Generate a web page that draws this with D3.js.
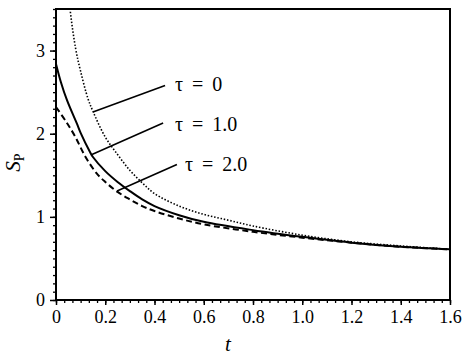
<!DOCTYPE html>
<html><head><meta charset="utf-8">
<script src="https://cdn.jsdelivr.net/npm/d3@7/dist/d3.min.js"></script>
<style>body{margin:0;background:#fff}svg{display:block}text{font-family:"Liberation Serif","Times New Roman","DejaVu Serif",serif}</style>
</head><body>
<svg id="c" width="474" height="361"></svg>
<script>
// ---- data ----
const curveTau0 = [[0.04,4.1],[0.057,3.5],[0.08,3.02],[0.1,2.75],[0.13,2.42],[0.15,2.27],[0.2,1.96],[0.25,1.75],[0.3,1.56],[0.35,1.41],[0.4,1.28],[0.5,1.13],[0.6,1.03],[0.7,0.96],[0.8,0.89],[1.0,0.78],[1.2,0.70],[1.4,0.65],[1.6,0.61]];
const curveTau1 = [[0,2.84],[0.02,2.62],[0.045,2.4],[0.085,2.12],[0.1,2.01],[0.138,1.78],[0.15,1.72],[0.2,1.55],[0.25,1.42],[0.3,1.31],[0.35,1.21],[0.4,1.13],[0.5,1.02],[0.6,0.94],[0.8,0.84],[1.0,0.76],[1.2,0.69],[1.4,0.64],[1.6,0.61]];
const curveTau2 = [[0,2.32],[0.04,2.15],[0.077,1.97],[0.12,1.72],[0.166,1.52],[0.2,1.42],[0.25,1.30],[0.3,1.21],[0.35,1.13],[0.4,1.07],[0.5,0.98],[0.6,0.91],[0.8,0.82],[1.0,0.75],[1.2,0.69],[1.4,0.64],[1.6,0.61]];
const seriesLabels = ["τ = 0","τ = 1.0","τ = 2.0"];
const leaderFrom = [[0.15,2.26],[0.146,1.75],[0.248,1.31]];
const leaderTo = [[0.443,2.58],[0.435,2.13],[0.491,1.63]];
const labelPos = [[0.483,2.6],[0.483,2.12],[0.524,1.63]];
const xTicks = [0,0.2,0.4,0.6,0.8,1.0,1.2,1.4,1.6];
const xTickLabels = ["0","0.2","0.4","0.6","0.8","1.0","1.2","1.4","1.6"];
const yTicks = [0,1,2,3];
const yTickLabels = ["0","1","2","3"];
const xDomain = [0,1.6], yDomain = [0,3.5];

// ---- layout ----
const L=56,R=450,T=9,B=300;
const svg=d3.select("#c");
const x=d3.scaleLinear().domain(xDomain).range([L,R]);
const y=d3.scaleLinear().domain(yDomain).range([B,T]);
const font='"Liberation Serif","Times New Roman","DejaVu Serif",serif';

svg.append("clipPath").attr("id","clip").append("rect")
  .attr("x",L).attr("y",T).attr("width",R-L).attr("height",B-T);

// minor ticks
const xMinor=d3.range(0,49).map(i=>i/30).filter(v=>v<=1.6+1e-9);
const yMinor=d3.range(0,36).map(i=>i/10);
const gx=svg.append("g").attr("transform",`translate(0,${B})`)
  .call(d3.axisBottom(x).tickValues(xMinor).tickSize(3).tickFormat(""));
const gy=svg.append("g").attr("transform",`translate(${L},0)`)
  .call(d3.axisLeft(y).tickValues(yMinor).tickSize(3).tickFormat(""));
[gx,gy].forEach(g=>{g.select(".domain").remove();g.selectAll("line").attr("stroke","#000").attr("stroke-width",1.3);});

const gx2=svg.append("g").attr("transform",`translate(0,${B})`)
  .call(d3.axisBottom(x).tickValues(xTicks).tickSize(5).tickPadding(5).tickFormat((d,i)=>xTickLabels[i]));
const gy2=svg.append("g").attr("transform",`translate(${L},0)`)
  .call(d3.axisLeft(y).tickValues(yTicks).tickSize(6).tickPadding(5).tickFormat((d,i)=>yTickLabels[i]));
[gx2,gy2].forEach(g=>{g.select(".domain").remove();g.selectAll("line").attr("stroke","#000").attr("stroke-width",1.5);
  g.attr("font-family",null).attr("font-size",null);
  g.selectAll("text").style("font-family",font).style("font-size","18px").attr("fill","#000");});

// frame
svg.append("rect").attr("x",L).attr("y",T).attr("width",R-L).attr("height",B-T)
  .attr("fill","none").attr("stroke","#000").attr("stroke-width",2);

// curves
const line=d3.line().x(d=>x(d[0])).y(d=>y(d[1])).curve(d3.curveCatmullRom.alpha(0.5));
const gc=svg.append("g").attr("clip-path","url(#clip)");
gc.append("path").datum(curveTau0).attr("d",line).attr("fill","none")
  .attr("stroke","#000").attr("stroke-width",1.6).attr("stroke-dasharray","1.5,1.8");
gc.append("path").datum(curveTau1).attr("d",line).attr("fill","none")
  .attr("stroke","#000").attr("stroke-width",2);
gc.append("path").datum(curveTau2).attr("d",line).attr("fill","none")
  .attr("stroke","#000").attr("stroke-width",2).attr("stroke-dasharray","6,3.5");

// leaders and labels
leaderFrom.forEach((p,i)=>{
  svg.append("line").attr("x1",x(p[0])).attr("y1",y(p[1]))
    .attr("x2",x(leaderTo[i][0])).attr("y2",y(leaderTo[i][1]))
    .attr("stroke","#000").attr("stroke-width",1.6);
  svg.append("text").attr("x",x(labelPos[i][0])).attr("y",y(labelPos[i][1]))
    .attr("dy","0.35em").style("font-family",font).style("font-size","20px")
    .style("word-spacing","4px").style("white-space","pre")
    .text(seriesLabels[i]);
});

// axis titles
svg.append("text").attr("x",228).attr("y",351).attr("text-anchor","middle")
  .style("font-family",font).style("font-size","21px").style("font-style","italic").text("t");
const yt=svg.append("text").attr("transform",`translate(20,${(T+B)/2+8}) rotate(-90)`)
  .attr("text-anchor","middle").style("font-family",font).style("font-size","21px");
yt.append("tspan").style("font-style","italic").text("S");
yt.append("tspan").style("font-size","14px").attr("dy",4).text("P");
</script>
</body></html>
